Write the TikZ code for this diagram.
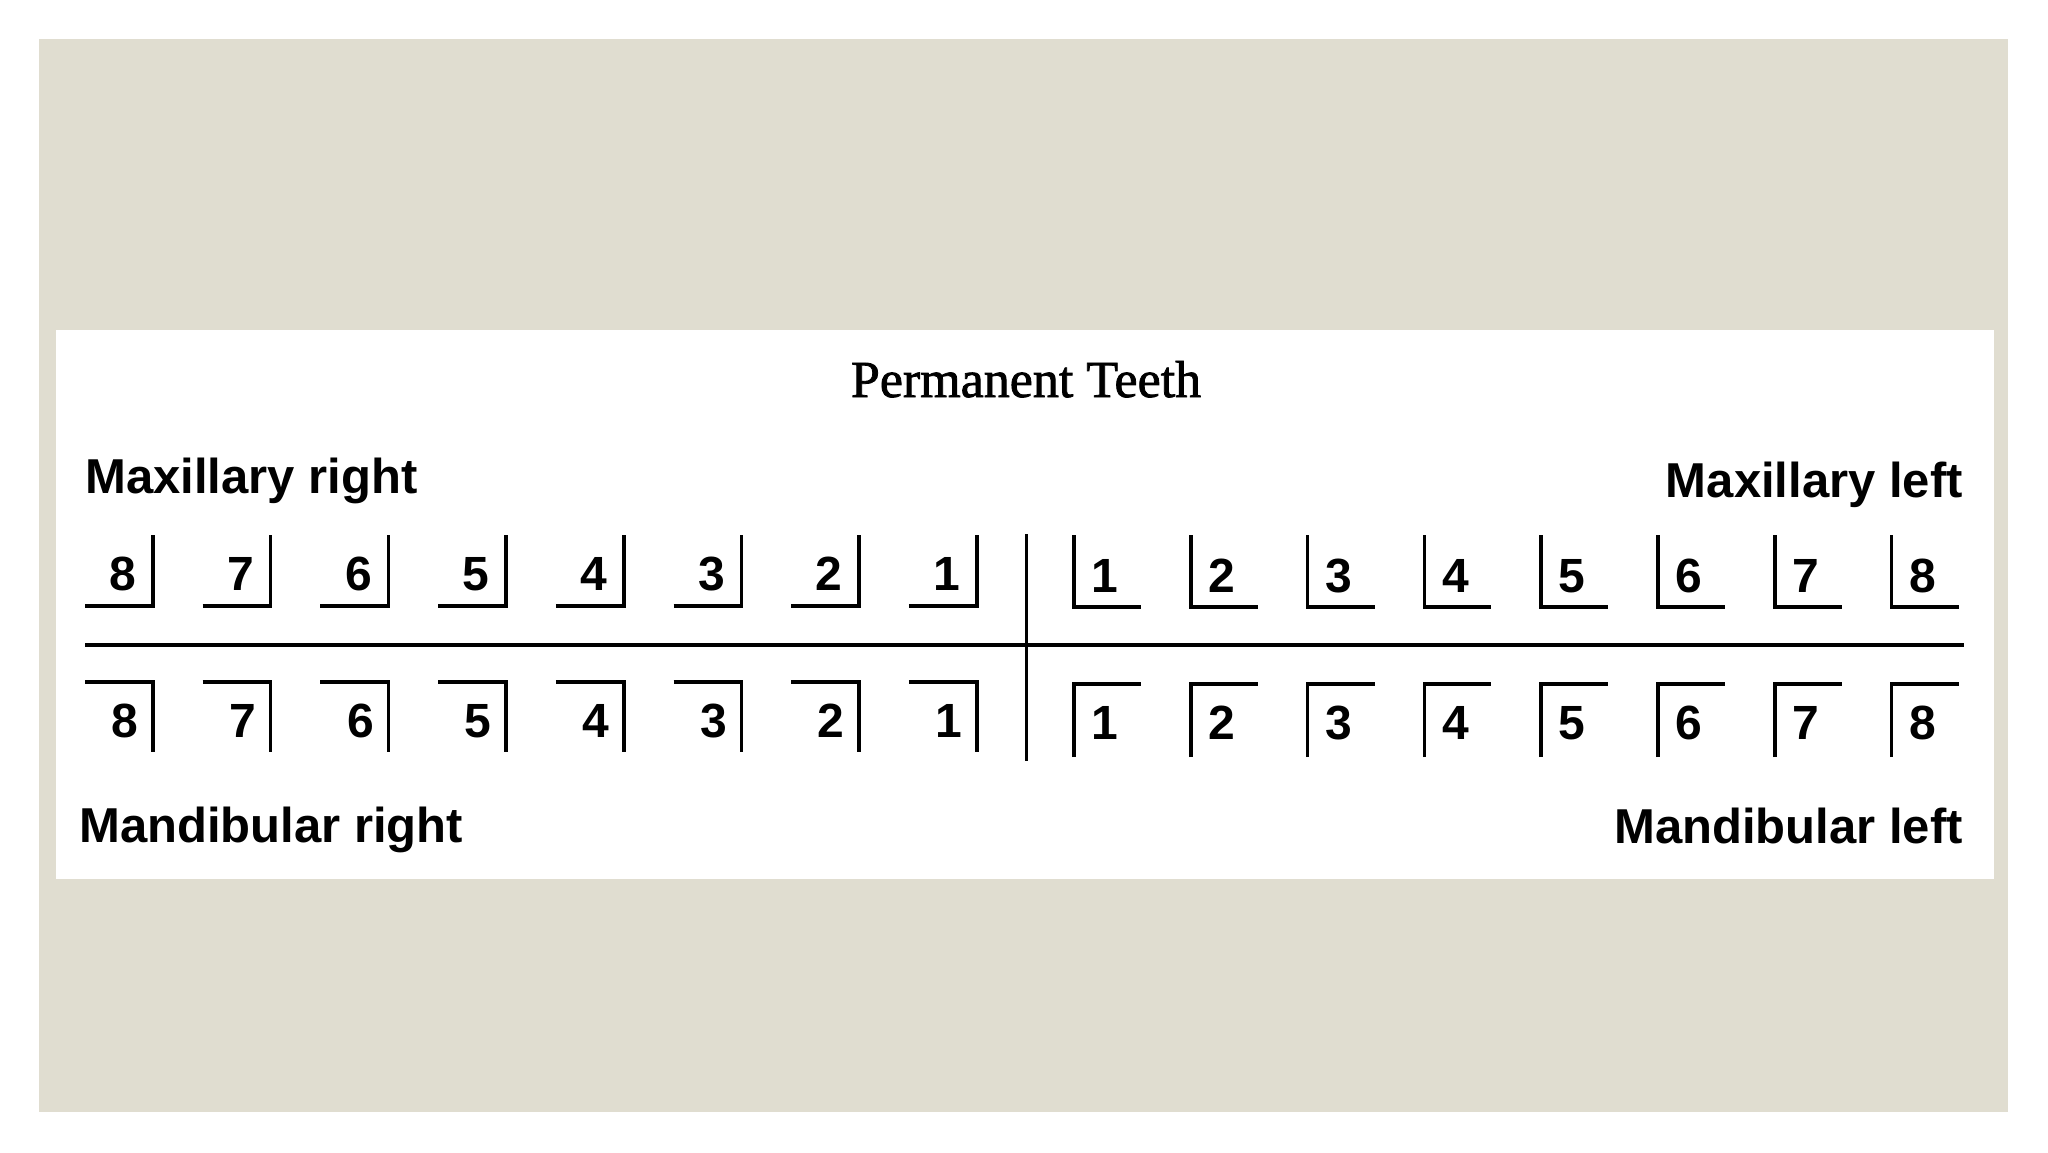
\documentclass[tikz,border=0pt]{standalone}
\usepackage{fontspec}
\setmainfont{Liberation Serif}
\setsansfont{Liberation Sans}
\newfontfamily\titlefont{Liberation Serif}[FakeBold=1.5]
\definecolor{beige}{RGB}{224,221,208}
\begin{document}
\begin{tikzpicture}[x=1pt,y=-1pt,
  lbl/.style={font=\sffamily\bfseries\fontsize{49}{58}\selectfont, inner sep=0pt},
  num/.style={font=\sffamily\bfseries\fontsize{48}{56}\selectfont, inner sep=0pt, anchor=base},
  brk/.style={line width=3.5pt, line join=miter},
  axis/.style={line width=4.5pt}]
\useasboundingbox (0,0) rectangle (2048,1152);
\fill[white] (0,0) rectangle (2048,1152);
\fill[beige] (39,39) rectangle (2008,1112);
\fill[white] (56,330) rectangle (1994,879);
\node[font=\titlefont\fontsize{52}{60}\selectfont, anchor=base, inner sep=0pt] (title) at (1026,397) {Permanent Teeth};
\node[lbl, anchor=base west] (mxr) at (85,493) {Maxillary right};
\node[lbl, anchor=base east] (mxl) at (1963,497) {Maxillary left};
\node[lbl, anchor=base west] (mdr) at (79,842) {Mandibular right};
\node[lbl, anchor=base east] (mdl) at (1963,843) {Mandibular left};
% midlines
\coordinate (hl) at (85,645);
\coordinate (hr) at (1964,645);
\coordinate (vt) at (1026,534);
\coordinate (vb) at (1026,761);
\draw[axis] (hl) -- (hr);
\draw[line width=3pt] (vt) -- (vb);
% right side
\foreach \n [count=\i from 0] in {8,7,6,5,4,3,2,1} {
  \pgfmathsetmacro{\e}{153+117.7*\i}
  \draw[brk] ({\e-68},606) -- (\e,606) -- (\e,535);
  \node[num] (ur\n) at ({\e-30},590) {\n};
  \draw[brk] ({\e-68},682) -- (\e,682) -- (\e,752);
  \node[num] (lr\n) at ({\e-28},737) {\n};
}
% left side
\foreach \n [count=\i from 0] in {1,2,3,4,5,6,7,8} {
  \pgfmathsetmacro{\e}{1074+116.8*\i}
  \draw[brk] (\e,535) -- (\e,607) -- ({\e+67},607);
  \node[num] (ul\n) at ({\e+31},592) {\n};
  \draw[brk] (\e,757) -- (\e,684) -- ({\e+67},684);
  \node[num] (ll\n) at ({\e+31},739) {\n};
}
\end{tikzpicture}
\end{document}
